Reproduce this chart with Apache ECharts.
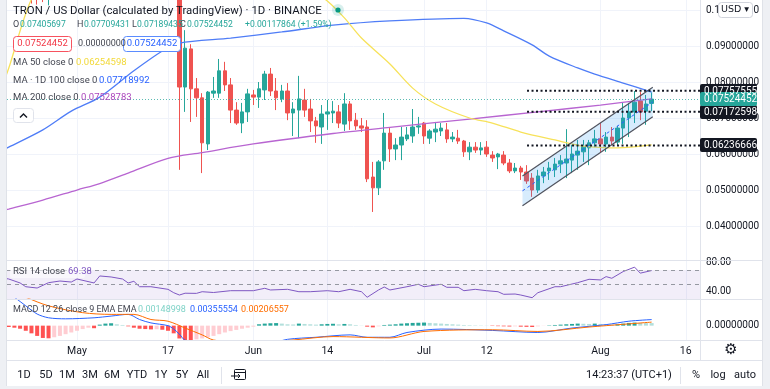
<!DOCTYPE html>
<html>
<head>
<meta charset="utf-8">
<script src="https://cdn.jsdelivr.net/npm/echarts@6.0.0/dist/echarts.min.js"></script>
<style>
html,body{margin:0;padding:0;background:#fff;overflow:hidden}
#chart{width:770px;height:389px}
</style>
</head>
<body>
<div id="chart"></div>
<script>
// ================= DATA =================
const firstDate = '2021-04-18';
const dayCount = 115;
const dates = [];
for (let i = 0; i < dayCount; i++) {
  dates.push(new Date(Date.parse(firstDate + 'T00:00:00Z') + i * 86400000).toISOString().slice(0, 10));
}
function dayIndex(s) {
  return Math.round((Date.parse(s + 'T00:00:00Z') - Date.parse(firstDate + 'T00:00:00Z')) / 86400000);
}

// daily candles, one row per date: [open, close, low, high]
const ohlc = [
  [0.128,0.125,0.120,0.131],[0.125,0.118,0.113,0.127],[0.118,0.120,0.114,0.124],[0.120,0.113,0.110,0.122],
  [0.113,0.108,0.104,0.115],[0.108,0.106,0.1018,0.111],[0.106,0.1045,0.1015,0.109],[0.1045,0.104,0.1022,0.108],
  [0.104,0.1085,0.1013,0.110],[0.1085,0.112,0.106,0.114],[0.112,0.118,0.110,0.120],[0.118,0.122,0.115,0.125],
  [0.122,0.127,0.119,0.130],
  // May
  [0.127,0.131,0.124,0.134],[0.131,0.136,0.128,0.139],[0.136,0.133,0.129,0.140],[0.133,0.128,0.125,0.135],
  [0.128,0.140,0.127,0.143],[0.140,0.146,0.137,0.150],[0.146,0.143,0.139,0.152],[0.143,0.141,0.136,0.147],
  [0.141,0.137,0.132,0.144],[0.137,0.128,0.124,0.139],[0.128,0.131,0.122,0.134],[0.131,0.120,0.112,0.133],
  [0.120,0.114,0.108,0.124],[0.114,0.121,0.110,0.124],[0.121,0.125,0.118,0.128],[0.125,0.120,0.116,0.127],
  [0.120,0.116,0.110,0.123],[0.116,0.112,0.106,0.118],[0.112,0.0786,0.0556,0.114],[0.0786,0.0894,0.0717,0.0944],
  [0.0892,0.0781,0.0689,0.0905],[0.0781,0.0756,0.0703,0.0811],[0.0756,0.0631,0.0547,0.0769],[0.0628,0.0772,0.0611,0.0775],
  [0.0769,0.0775,0.0756,0.0814],[0.0769,0.0831,0.0756,0.0864],[0.0831,0.0792,0.0775,0.0856],[0.0792,0.0722,0.0686,0.0811],
  [0.0722,0.0686,0.0681,0.0744],[0.0686,0.0717,0.0658,0.0742],[0.0717,0.0767,0.0689,0.0781],
  // June
  [0.0764,0.0758,0.0736,0.0778],[0.0758,0.0781,0.0728,0.0800],[0.0778,0.0822,0.0750,0.0831],[0.0822,0.0775,0.0761,0.0839],
  [0.0775,0.0756,0.0722,0.0811],[0.0753,0.0775,0.0744,0.0792],[0.0775,0.0714,0.0694,0.0797],[0.0714,0.0725,0.0650,0.0744],
  [0.0722,0.0753,0.0644,0.0817],[0.0750,0.0722,0.0703,0.0781],[0.0725,0.0692,0.0661,0.0753],[0.0692,0.0678,0.0631,0.0703],
  [0.0675,0.0711,0.0628,0.0736],[0.0711,0.0717,0.0667,0.0750],[0.0714,0.0719,0.0686,0.0747],[0.0717,0.0686,0.0672,0.0736],
  [0.0683,0.0739,0.0664,0.0769],[0.0739,0.0692,0.0667,0.0747],[0.0694,0.0678,0.0667,0.0714],[0.0678,0.0672,0.0661,0.0700],
  [0.0675,0.0531,0.0522,0.0694],[0.0536,0.0506,0.0439,0.0578],[0.0506,0.0578,0.0486,0.0583],[0.0581,0.0658,0.0556,0.0714],
  [0.0658,0.0614,0.0578,0.0672],[0.0614,0.0625,0.0583,0.0644],[0.0625,0.0647,0.0583,0.0675],[0.0642,0.0653,0.0636,0.0675],
  [0.0650,0.0675,0.0631,0.0725],[0.0675,0.0678,0.0656,0.0703],
  // July
  [0.0686,0.0650,0.0628,0.0689],[0.0644,0.0664,0.0628,0.0669],[0.0661,0.0669,0.0633,0.0689],[0.0664,0.0672,0.0650,0.0686],
  [0.0667,0.0642,0.0631,0.0686],[0.0642,0.0647,0.0633,0.0661],[0.0644,0.0636,0.0628,0.0667],[0.0636,0.0606,0.0592,0.0639],
  [0.0606,0.0619,0.0583,0.0633],[0.0619,0.0611,0.0603,0.0633],[0.0611,0.0617,0.0597,0.0633],[0.0619,0.0600,0.0592,0.0636],
  [0.0597,0.0589,0.0578,0.0608],[0.0592,0.0600,0.0558,0.0603],[0.0597,0.0575,0.0569,0.0608],[0.0575,0.0553,0.0547,0.0586],
  [0.0553,0.0561,0.0547,0.0575],[0.0561,0.0550,0.0528,0.0567],[0.0550,0.0525,0.0517,0.0569],[0.0533,0.0500,0.0481,0.0547],
  [0.0500,0.0539,0.0492,0.0556],[0.0539,0.0550,0.0519,0.0564],[0.0553,0.0561,0.0528,0.0578],[0.0556,0.0572,0.0536,0.0589],
  [0.0572,0.0581,0.0547,0.0597],[0.0575,0.0586,0.0533,0.0669],[0.0583,0.0600,0.0547,0.0625],[0.0597,0.0608,0.0556,0.0639],
  [0.0606,0.0619,0.0578,0.0639],[0.0617,0.0631,0.0569,0.0639],[0.0631,0.0642,0.0619,0.0667],
  // August
  [0.0642,0.0628,0.0603,0.0686],[0.0628,0.0647,0.0606,0.0661],[0.0647,0.0636,0.0625,0.0675],[0.0633,0.0672,0.0625,0.0678],
  [0.0672,0.0700,0.0628,0.0742],[0.0700,0.0717,0.0647,0.0742],[0.0717,0.0744,0.0686,0.0775],[0.0747,0.0717,0.0694,0.0772],
  [0.0719,0.0739,0.0681,0.0764],[0.07405697,0.07524452,0.07189435,0.07709431]
];

// moving averages [date, value]
const ma50 = [
  ['2021-04-18',0.0795],['2021-04-19',0.0838],['2021-04-23',0.1030],['2021-04-27',0.1110],['2021-05-05',0.1170],
  ['2021-05-15',0.1190],['2021-05-25',0.1160],['2021-06-05',0.1100],['2021-06-12',0.1045],['2021-06-14',0.1025],
  ['2021-06-17',0.0978],['2021-06-20',0.0922],['2021-06-25',0.0850],['2021-06-29',0.0783],['2021-07-03',0.0739],
  ['2021-07-09',0.0700],['2021-07-13',0.0686],['2021-07-18',0.0661],['2021-07-24',0.0639],['2021-07-29',0.0622],
  ['2021-08-04',0.0617],['2021-08-10',0.06254598]
];
const ma100 = [
  ['2021-04-18',0.0611],['2021-04-19',0.0619],['2021-04-25',0.0667],['2021-04-30',0.0719],['2021-05-05',0.0758],
  ['2021-05-11',0.0831],['2021-05-16',0.0886],['2021-05-19',0.0908],['2021-05-28',0.0922],['2021-06-06',0.0939],
  ['2021-06-15',0.0958],['2021-06-25',0.0970],['2021-07-08',0.0977],['2021-07-12',0.0964],['2021-07-15',0.0942],
  ['2021-07-20',0.0903],['2021-07-23',0.0872],['2021-07-28',0.0839],['2021-07-31',0.0822],['2021-08-05',0.0797],
  ['2021-08-10',0.07718992]
];
const ma200 = [
  ['2021-04-18',0.0443],['2021-04-19',0.0447],['2021-04-25',0.0472],['2021-05-01',0.0500],['2021-05-05',0.0518],
  ['2021-05-10',0.0547],['2021-05-17',0.0588],['2021-05-23',0.0604],['2021-06-01',0.0628],['2021-06-15',0.0657],
  ['2021-06-25',0.0674],['2021-07-09',0.0697],['2021-07-21',0.0717],['2021-08-01',0.0736],['2021-08-10',0.07528783]
];

// RSI 14 [date, value]
const rsi = [
  ['2021-04-18',59],['2021-04-19',57.7],['2021-04-21',52.2],['2021-04-22',47],['2021-04-24',45.2],['2021-04-26',52.6],
  ['2021-04-28',54.9],['2021-04-30',53.5],['2021-05-01',57.7],['2021-05-04',52.2],['2021-05-05',61.9],['2021-05-07',60.5],
  ['2021-05-09',57.7],['2021-05-10',52.2],['2021-05-11',54.5],['2021-05-12',47],['2021-05-14',47],['2021-05-17',43.4],
  ['2021-05-18',38.7],['2021-05-19',35.5],['2021-05-20',38],['2021-05-22',37.8],['2021-05-23',40.1],['2021-05-25',39],
  ['2021-05-28',41.5],['2021-06-01',41.5],['2021-06-03',44.8],['2021-06-04',42.5],['2021-06-07',43.4],['2021-06-09',40.1],
  ['2021-06-11',40.1],['2021-06-14',41.5],['2021-06-16',40.1],['2021-06-18',43.4],['2021-06-20',40.1],['2021-06-21',32.4],
  ['2021-06-23',42.5],['2021-06-24',46.6],['2021-06-25',42.5],['2021-06-28',47],['2021-06-30',50.4],['2021-07-01',47],
  ['2021-07-04',50.4],['2021-07-05',46.2],['2021-07-07',46.2],['2021-07-08',41.5],['2021-07-10',43.4],['2021-07-12',41.5],
  ['2021-07-14',40.1],['2021-07-15',36.5],['2021-07-17',36.9],['2021-07-18',35.5],['2021-07-20',31.8],['2021-07-21',38.7],
  ['2021-07-24',47],['2021-07-25',47],['2021-07-28',52.6],['2021-07-30',57.3],['2021-08-01',56.4],['2021-08-02',61],
  ['2021-08-03',58.7],['2021-08-05',68],['2021-08-07',74.1],['2021-08-08',65.8],['2021-08-10',69.38]
];

// MACD 12 26 9 : histogram (one per date), MACD and signal lines [date, value]
const macdHist = [
  -0.0005,-0.0008,-0.0012,-0.0018,-0.0030,-0.0045,-0.0060,-0.0072,-0.0074,-0.0068,-0.0060,-0.0050,-0.0040,
  -0.0030,-0.0020,-0.0012,-0.0015,0.0006,0.0012,0.0014,0.0008,0.0004,-0.0004,-0.0012,-0.0018,-0.0020,-0.0022,
  -0.0021,-0.0024,-0.0030,-0.0045,-0.0075,-0.0084,-0.0086,-0.0080,-0.0075,-0.0068,-0.0060,-0.0050,-0.0040,-0.0032,
  -0.0025,-0.0018,-0.0012,
  -0.0006,0.0008,0.0012,0.0014,0.0015,0.0012,0.0008,0.0007,0.0012,0.0010,0.0008,0.0006,0.0008,0.0010,0.0011,
  0.0008,0.0010,0.0008,0.0004,0.0001,-0.0006,-0.0010,-0.0004,0.0004,0.0006,0.0008,0.0012,0.0014,0.0016,0.0017,
  0.0018,0.0016,0.0014,0.0012,0.0010,0.0008,0.0006,0.0004,0.0003,0.0002,0.00015,0.0001,-0.0002,-0.0003,-0.0004,
  -0.0005,-0.0004,-0.0006,-0.0007,-0.0008,-0.0004,-0.0001,0.0002,0.0004,0.0006,0.0008,0.0010,0.0012,0.0011,0.0010,0.0012,
  0.0010,0.0008,0.0006,0.0008,0.0012,0.0016,0.0018,0.0016,0.0015,0.00148998
];
const macdLine = [
  ['2021-04-18',0.0210],['2021-04-20',0.0166],['2021-04-22',0.0116],['2021-04-24',0.0068],['2021-04-26',0.0046],
  ['2021-04-29',0.0040],['2021-05-04',0.0046],['2021-05-07',0.0056],['2021-05-10',0.0066],['2021-05-12',0.0036],
  ['2021-05-14',0.0016],['2021-05-17',0.0000],['2021-05-18',-0.0020],['2021-05-19',-0.0050],['2021-05-20',-0.0085],
  ['2021-05-23',-0.0110],['2021-05-29',-0.0120],['2021-06-04',-0.0105],['2021-06-07',-0.0080],['2021-06-12',-0.0068],
  ['2021-06-18',-0.0054],['2021-06-21',-0.0068],['2021-06-25',-0.0068],['2021-06-28',-0.0040],['2021-07-04',-0.0020],
  ['2021-07-13',-0.0028],['2021-07-21',-0.0040],['2021-07-27',-0.0014],['2021-08-02',0.0006],['2021-08-06',0.0026],
  ['2021-08-10',0.00355554]
];
const signalLine = [
  ['2021-04-18',0.0220],['2021-04-22',0.0166],['2021-04-26',0.0116],['2021-05-02',0.0076],['2021-05-07',0.0066],
  ['2021-05-11',0.0066],['2021-05-14',0.0036],['2021-05-17',0.0026],['2021-05-20',-0.0014],['2021-05-23',-0.0054],
  ['2021-05-25',-0.0084],['2021-05-31',-0.0105],['2021-06-08',-0.0084],['2021-06-15',-0.0064],['2021-06-25',-0.0072],
  ['2021-07-01',-0.0034],['2021-07-13',-0.0024],['2021-07-21',-0.0034],['2021-07-30',-0.0008],['2021-08-10',0.00206557]
];

// x-axis tick labels
const xTickLabels = [['2021-05-01','May'],['2021-05-17','17'],['2021-06-01','Jun'],['2021-06-14','14'],
  ['2021-07-01','Jul'],['2021-07-12','12'],['2021-08-01','Aug'],['2021-08-16','16']];
const priceTicks = [0.04,0.05,0.06,0.07,0.08,0.09,0.10];
const rsiTicks = [40, 80];
const macdTicks = [0];

// drawings: parallel channel [date, dayFraction, lowerPrice, upperPrice]
const channel = [['2021-07-18',0.3,0.04564,0.05389],['2021-08-10',0.2,0.07036,0.07853]];
// horizontal rays [date, dayFraction, price]
const levels = [['2021-07-19',0.1,0.07757555],['2021-07-19',0.1,0.07172598],['2021-07-19',0.1,0.06236666]];
const lastClose = 0.07524452;

// ================= CHART =================
const FONT = 'Roboto, "Liberation Sans", sans-serif';
const TXT = '#131722';
const GRIDC = '#f0f3fa';
const xMin = 0.7, xMax = 122.5;
const xTicks = xTickLabels.map(d => dayIndex(d[0]));
const xLabelMap = {}; xTickLabels.forEach(d => { xLabelMap[dayIndex(d[0])] = d[1]; });
const toXY = arr => arr.map(d => [dayIndex(d[0]), d[1]]);

const chart = echarts.init(document.getElementById('chart'), null, {renderer: 'canvas'});

function xAxisFor(g) {
  return {
    type: 'value', gridIndex: g, min: xMin, max: xMax,
    axisLine: {show: false},
    axisTick: {show: false, customValues: xTicks},
    axisLabel: g === 2 ? {show: true, customValues: xTicks, formatter: v => xLabelMap[Math.round(v)] || '',
      color: TXT, fontSize: 10.5, fontFamily: FONT, margin: 6} : {show: false},
    splitLine: {show: true, lineStyle: {color: GRIDC, width: 1}}
  };
}

const histColors = macdHist.map((v, i) => {
  const p = i > 0 ? macdHist[i - 1] : v;
  if (v >= 0) return v >= p ? '#26a69a' : '#b2dfdb';
  return v <= p ? '#ff5252' : '#ffcdd2';
});

const axisLabelStyle = {color: TXT, fontSize: 10, fontFamily: FONT, margin: 6};
const option = {
  animation: false,
  backgroundColor: '#ffffff',
  grid: [
    {left: 7, top: 0, width: 693, height: 260},
    {left: 7, top: 260, width: 693, height: 39},
    {left: 7, top: 299, width: 693, height: 41}
  ],
  xAxis: [xAxisFor(0), xAxisFor(1), xAxisFor(2)],
  yAxis: [
    {type: 'value', gridIndex: 0, position: 'right', min: 0.030556, max: 0.102778,
      axisLine: {show: false}, axisTick: {show: false, customValues: priceTicks},
      axisLabel: Object.assign({customValues: priceTicks, formatter: v => v.toFixed(8)}, axisLabelStyle),
      splitLine: {show: true, lineStyle: {color: GRIDC}}},
    {type: 'value', gridIndex: 1, position: 'right', min: 30, max: 84,
      axisLine: {show: false}, axisTick: {show: false, customValues: rsiTicks},
      axisLabel: Object.assign({customValues: rsiTicks, formatter: v => v.toFixed(2)}, axisLabelStyle),
      splitLine: {show: false}},
    {type: 'value', gridIndex: 2, position: 'right', min: -0.0084, max: 0.0156,
      axisLine: {show: false}, axisTick: {show: false, customValues: macdTicks},
      axisLabel: Object.assign({customValues: macdTicks, formatter: v => v.toFixed(8)}, axisLabelStyle),
      splitLine: {show: false}}
  ],
  series: [
    {type: 'candlestick', xAxisIndex: 0, yAxisIndex: 0, clip: true, barWidth: 4,
      encode: {x: 0, y: [1, 2, 3, 4]},
      data: ohlc.map((r, i) => [i, r[0], r[1], r[2], r[3]]),
      itemStyle: {color: '#26a69a', color0: '#ef5350', borderColor: '#26a69a', borderColor0: '#ef5350', borderWidth: 1}},
    {type: 'line', xAxisIndex: 0, yAxisIndex: 0, data: toXY(ma200), showSymbol: false, smooth: 0.3, clip: true,
      lineStyle: {color: '#b865d1', width: 1.3}},
    {type: 'line', xAxisIndex: 0, yAxisIndex: 0, data: toXY(ma100), showSymbol: false, smooth: 0.3, clip: true,
      lineStyle: {color: '#4f7df7', width: 1.3}},
    {type: 'line', xAxisIndex: 0, yAxisIndex: 0, data: toXY(ma50), showSymbol: false, smooth: 0.3, clip: true,
      lineStyle: {color: '#f7e25a', width: 1.3}},
    {type: 'line', xAxisIndex: 1, yAxisIndex: 1, data: toXY(rsi), showSymbol: false, clip: true,
      lineStyle: {color: '#7e57c2', width: 1},
      markArea: {silent: true, itemStyle: {color: 'rgba(126,87,194,0.1)'}, data: [[{yAxis: 30}, {yAxis: 70}]]},
      markLine: {silent: true, symbol: ['none', 'none'], label: {show: false},
        lineStyle: {color: '#9598a1', type: [4, 4], width: 1}, data: [{yAxis: 70}, {yAxis: 50}]}},
    {type: 'bar', xAxisIndex: 2, yAxisIndex: 2, barWidth: 4, clip: true,
      data: macdHist.map((v, i) => ({value: [i, v], itemStyle: {color: histColors[i]}}))},
    {type: 'line', xAxisIndex: 2, yAxisIndex: 2, data: toXY(macdLine), showSymbol: false, smooth: 0.3, clip: true,
      lineStyle: {color: '#2962ff', width: 1}},
    {type: 'line', xAxisIndex: 2, yAxisIndex: 2, data: toXY(signalLine), showSymbol: false, smooth: 0.3, clip: true,
      lineStyle: {color: '#ff6d00', width: 1}}
  ]
};
chart.setOption(option);

// ================= OVERLAYS =================
function txt(x, y, t, color, size, opts) {
  opts = opts || {};
  return {type: 'text', x: x, y: y, silent: true, z: opts.z || 100,
    style: {text: t, fill: color, fontSize: size, fontFamily: opts.font || FONT, fontWeight: opts.weight || 'normal',
      align: opts.align || 'left', textAlign: opts.align || 'left', verticalAlign: 'middle', textVerticalAlign: 'middle'}};
}
function line(x1, y1, x2, y2, color, w, dash, z) {
  return {type: 'line', silent: true, z: z || 90, shape: {x1, y1, x2, y2},
    style: {stroke: color, lineWidth: w || 1, lineDash: dash || null}};
}
function rect(x, y, w, h, fill, stroke, r, z) {
  return {type: 'rect', silent: true, z: z || 90, shape: {x, y, width: w, height: h, r: r || 0},
    style: {fill: fill || 'none', stroke: stroke || null, lineWidth: 1}};
}
const px = (x, y) => chart.convertToPixel({gridIndex: 0}, [x, y]);

const G = [];
// pane separators & price scale border
G.push(line(7, 260.5, 762, 260.5, '#e0e3eb', 1));
G.push(line(7, 299.5, 762, 299.5, '#e0e3eb', 1));
G.push(line(7, 340.5, 762, 340.5, '#e0e3eb', 1));
G.push(line(7, 360.5, 762, 360.5, '#e0e3eb', 1));
G.push(line(700.5, 0, 700.5, 360, '#e0e3eb', 1));
// frame
G.push(rect(0, 0, 6, 389, '#eef0f4', null, 0, 80));
G.push(rect(763, 0, 7, 389, '#eef0f4', null, 0, 80));
G.push(rect(0, 386, 770, 3, '#eef0f4', null, 0, 80));
G.push(line(6.5, 0, 6.5, 386, '#dfe2e8', 1, null, 81));
G.push(line(762.5, 0, 762.5, 386, '#dfe2e8', 1, null, 81));

// last price dotted line
const lp = px(xMin, lastClose);
G.push(line(7, Math.round(lp[1]) + 0.5, 700, Math.round(lp[1]) + 0.5, 'rgba(38,166,154,0.75)', 1, [1, 2], 59));

// channel
const c0 = channel[0], c1 = channel[1];
const xa = dayIndex(c0[0]) + c0[1], xb = dayIndex(c1[0]) + c1[1];
const pLa = px(xa, c0[2]), pUa = px(xa, c0[3]), pLb = px(xb, c1[2]), pUb = px(xb, c1[3]);
G.push({type: 'polygon', silent: true, z: 60, shape: {points: [pUa, pUb, pLb, pLa]},
  style: {fill: 'rgba(33,150,243,0.18)'}});
G.push(line(pUa[0], pUa[1], pUb[0], pUb[1], '#50535e', 1.2, null, 61));
G.push(line(pLa[0], pLa[1], pLb[0], pLb[1], '#50535e', 1.2, null, 61));
G.push(line(pUa[0], (pUa[1] + pLa[1]) / 2, pUb[0], (pUb[1] + pLb[1]) / 2, '#2962ff', 1, [3, 3], 61));

// horizontal levels with price labels
levels.forEach(l => {
  const a = px(dayIndex(l[0]) + l[1], l[2]);
  G.push(line(a[0], a[1], 700, a[1], '#131722', 2, [2, 2.5], 62));
});
function priceBox(price, bg) {
  const y = Math.round(px(xMin, price)[1]);
  G.push(rect(700, y - 7, 57, 14, bg, null, 2, 95));
  G.push(txt(704, y, price.toFixed(8), '#ffffff', 10, {z: 96}));
}
priceBox(levels[0][2], '#131722');
priceBox(levels[1][2], '#131722');
priceBox(levels[2][2], '#131722');
priceBox(lastClose, '#26a69a');

// USD box
G.push(rect(718.5, 2.5, 34, 15, '#ffffff', '#d1d4dc', 3, 95));
G.push(txt(735, 10, 'USD ▾', TXT, 9.5, {z: 96, align: 'center', font: '"DejaVu Sans", sans-serif'}));

// record indicator dot
G.push({type: 'circle', silent: true, z: 95, shape: {cx: 338, cy: 10, r: 6}, style: {fill: 'rgba(38,166,154,0.18)'}});
G.push({type: 'circle', silent: true, z: 96, shape: {cx: 338, cy: 10, r: 2.6}, style: {fill: '#089981'}});

// legend
G.push(txt(13, 11, 'TRON / US Dollar (calculated by TradingView) · 1D · BINANCE', TXT, 11.4));
const up = '#26a69a', lab = '#434651';
[['O', 13], ['H', 77], ['L', 132], ['C', 180]].forEach(p => G.push(txt(p[1], 25, p[0], lab, 9)));
[['0.07405697', 20], ['0.07709431', 84], ['0.07189435', 137], ['0.07524452', 187], ['+0.00117864 (+1.59%)', 245]]
  .forEach(p => G.push(txt(p[1], 25, p[0], up, 8.6)));
G.push(rect(13.5, 36.5, 58, 15, '#ffffff', '#f7525f', 3, 95));
G.push(txt(42.5, 44, '0.07524452', '#f23645', 9.5, {align: 'center', z: 96}));
G.push(txt(78, 44, '0.00000000', lab, 9));
G.push(rect(123.5, 36.5, 57, 15, '#ffffff', '#5b8cff', 3, 95));
G.push(txt(152, 44, '0.07524452', '#2962ff', 9.5, {align: 'center', z: 96}));
G.push(txt(13, 63, 'MA 50 close 0', lab, 9.5));
G.push(txt(76, 63, '0.06254598', '#f2d93a', 9.5));
G.push(txt(13, 81, 'MA · 1D 100 close 0', lab, 9.5));
G.push(txt(99, 81, '0.07718992', '#2962ff', 9.5));
G.push(txt(13, 98, 'MA 200 close 0', lab, 9.5));
G.push(txt(81, 98, '0.07528783', '#ab47bc', 9.5));
G.push(rect(13.5, 108.5, 20, 14, '#ffffff', '#e0e3eb', 3, 95));
G.push({type: 'polyline', silent: true, z: 96, shape: {points: [[20, 117.5], [23.5, 114], [27, 117.5]]},
  style: {stroke: TXT, lineWidth: 1.4, fill: null}});

// RSI & MACD legends
G.push(rect(10, 266, 75, 12, 'rgba(255,255,255,0.55)', null, 2, 94));
G.push(txt(13, 272, 'RSI 14 close', lab, 9.5));
G.push(txt(68, 272, '69.38', '#7e57c2', 9.5));
G.push(txt(13, 310, 'MACD 12 26 close 9 EMA EMA', lab, 9));
G.push(txt(138, 310, '0.00148998', '#7fd3c7', 9));
G.push(txt(190, 310, '0.00355554', '#2962ff', 9));
G.push(txt(241, 310, '0.00206557', '#ff6d00', 9));

// gear
G.push(txt(731, 350, '⚙', TXT, 15, {align: 'center', font: '"DejaVu Sans", sans-serif'}));

// bottom toolbar
[['1D', 24], ['5D', 46], ['1M', 67], ['3M', 90], ['6M', 112], ['YTD', 137], ['1Y', 161], ['5Y', 182], ['All', 203]]
  .forEach(t => G.push(txt(t[1], 375, t[0], TXT, 11, {align: 'center'})));
G.push(line(221.5, 367, 221.5, 384, '#e0e3eb', 1));
G.push(rect(234.5, 369.5, 11, 10, null, TXT, 1, 95));
G.push(line(234.5, 372.5, 245.5, 372.5, TXT, 1, null, 95));
G.push(line(231, 376, 240, 376, TXT, 1, null, 96));
G.push({type: 'polyline', silent: true, z: 96, shape: {points: [[238, 374], [240, 376], [238, 378]]}, style: {stroke: TXT, lineWidth: 1, fill: null}});
G.push(txt(629, 375, '14:23:37 (UTC+1)', TXT, 11, {align: 'center'}));
G.push(line(680.5, 367, 680.5, 384, '#e0e3eb', 1));
G.push(txt(696, 375, '%', TXT, 11, {align: 'center'}));
G.push(txt(718, 375, 'log', TXT, 11, {align: 'center'}));
G.push(txt(745, 375, 'auto', TXT, 11, {align: 'center'}));

chart.setOption({graphic: {elements: G}});
</script>
</body>
</html>
